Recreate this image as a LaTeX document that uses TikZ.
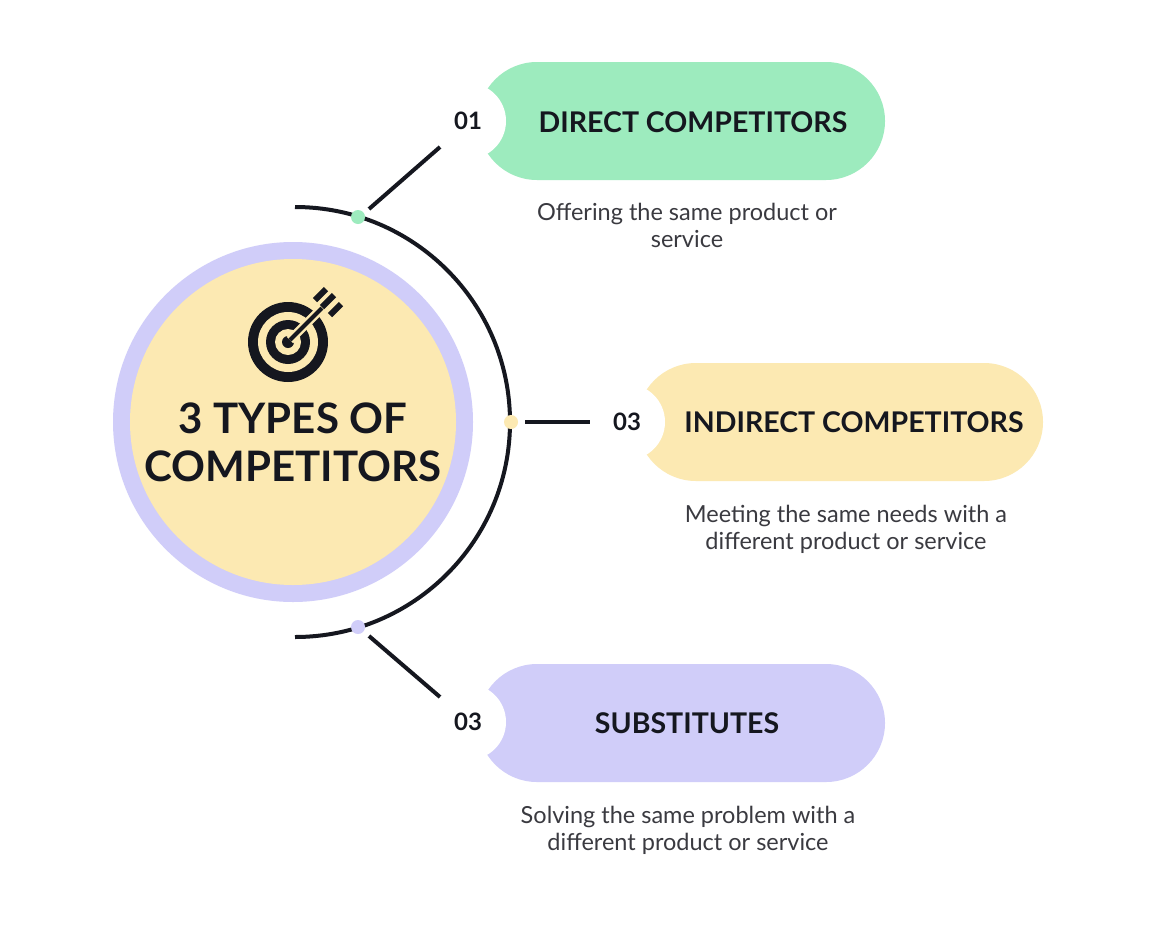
\documentclass[tikz,border=0pt]{standalone}
\usepackage{fontspec}
\setmainfont{Lato}
\definecolor{ink}{HTML}{15171F}
\definecolor{gr}{HTML}{9DEBBE}
\definecolor{ye}{HTML}{FCE9B2}
\definecolor{la}{HTML}{D0CDF9}
\definecolor{tx}{HTML}{3A3A40}
\begin{document}
\begin{tikzpicture}[x=1pt,y=-1pt,
  pill/.style={rounded corners=59pt},
  num/.style={font=\fontsize{24}{24}\selectfont\bfseries,text=ink},
  ptitle/.style={font=\fontsize{28.5}{28.5}\selectfont\bfseries,text=ink},
  desc/.style={font=\fontsize{23.5}{27}\selectfont,text=tx,align=center},
  conn/.style={ink,line width=4pt}]
\useasboundingbox (0,0) rectangle (1155,924);
\fill[white] (0,0) rectangle (1155,924);
% central circle
\fill[la] (293,422) circle (180);
\fill[ye] (293,422) circle (163);
\node[font=\fontsize{42}{48}\selectfont\bfseries,text=ink,align=center] (title) at (293,442) {3 TYPES OF\\COMPETITORS};
% target icon
\fill[ink] (288,342) circle (40);
\fill[ye] (288,342) circle (30);
\fill[ink] (288,342) circle (22);
\fill[ye] (288,342) circle (13);
\fill[ink] (288,342) circle (6);
\draw[ye,line width=9pt] (290,340) -- (325,305);
\draw[ink,line width=4pt] (290,340) -- (322,308);
\draw[ink,line width=6pt] (315,300) -- (326,289);
\draw[ink,line width=6pt] (330,315) -- (341,304);
\draw[ink,line width=6pt] (322,307) -- (334,295);
% arc
\draw[ink,line width=4pt] (295,207) arc[start angle=-90,end angle=90,radius=215];
% pills
\fill[gr,pill] (478,62) rectangle (885,180);
\fill[white] (468,121) circle (38);
\fill[ye,pill] (637,363) rectangle (1043,481);
\fill[white] (627,422) circle (38);
\fill[la,pill] (478,664) rectangle (885,782);
\fill[white] (468,722) circle (38);
\node[num] (n1) at (468,121) {01};
\node[num] (n2) at (627,422) {03};
\node[num] (n3) at (468,722) {03};
\node[ptitle] (t1) at (693,122) {DIRECT COMPETITORS};
\node[ptitle] (t2) at (854,422) {INDIRECT COMPETITORS};
\node[ptitle] (t3) at (687,723) {SUBSTITUTES};
\node[desc] (d1) at (687,225) {Offering the same product or\\service};
\node[desc] (d2) at (846,529) {Meeting the same needs with a\\different product or service};
\node[desc] (d3) at (688,830) {Solving the same problem with a\\different product or service};
% dots
\fill[gr] (358,217) circle (7) coordinate (p1);
\fill[ye] (511,422) circle (7) coordinate (p2);
\fill[la] (358,627) circle (7) coordinate (p3);
\coordinate (a1) at (369,209); \coordinate (b1) at (440,147);
\coordinate (a2) at (525,422); \coordinate (b2) at (590,422);
\coordinate (a3) at (369,636); \coordinate (b3) at (440,697);
\draw[conn] (a1) -- (b1);
\draw[conn] (a2) -- (b2);
\draw[conn] (a3) -- (b3);
\end{tikzpicture}
\end{document}
